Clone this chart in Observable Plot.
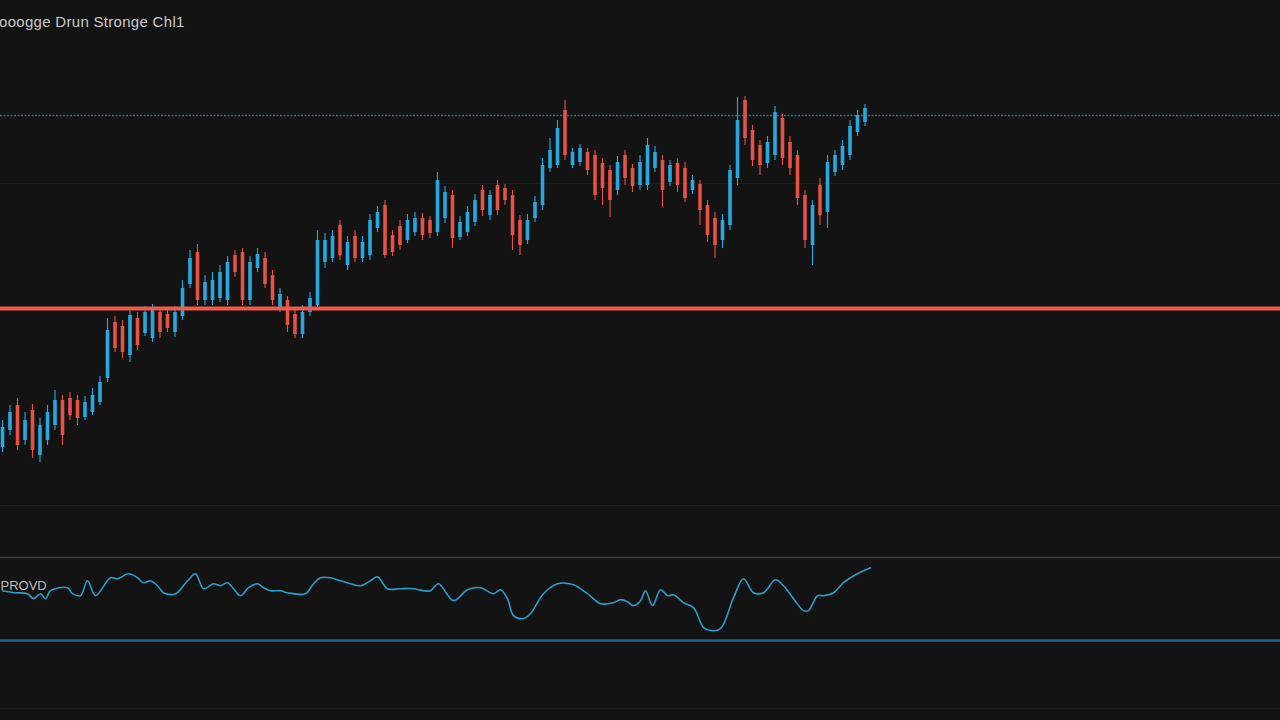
<!DOCTYPE html>
<html><head><meta charset="utf-8">
<script src="https://cdn.jsdelivr.net/npm/d3@7"></script>
<script src="https://cdn.jsdelivr.net/npm/@observablehq/plot@0.6"></script>
<style>
html,body{margin:0;padding:0;background:#131313;width:1280px;height:720px;overflow:hidden;}
#title{height:40px;position:relative;font:15px "Liberation Sans", Arial, sans-serif;color:#c9c9c9;}
#title span{position:absolute;left:-1px;top:13px;white-space:nowrap;letter-spacing:0.3px}
svg{display:block}
</style></head><body>
<div id="title"><span>ooogge Drun Stronge Chl1</span></div>
<div id="price"></div>
<div id="osc"></div>
<script>
// candle OHLC values (price units)
const open = [153,170,195,160,190,145,160,175,200,202, 200,183,188,198,222,278,274,245,282,267, 262,288,286,268,284,316,348,300,300,302, 300,345,348,300,332,342,325,293,300,286, 266,288,295,338,342,375,335,364,342,345, 372,395,365,374,360,368,382,380,368,382, 405,363,368,378,410,385,415,412,405,380, 360,382,395,432,435,490,435,438,448,445, 437,430,410,445,432,415,415,432,440,418, 437,432,410,416,395,382,360,375,422,500, 470,455,437,445,482,458,445,405,355,415, 388,428,435,445,468,478];
const close = [173,188,155,180,150,175,188,200,165,185, 182,198,205,218,270,252,248,285,255,288, 290,268,272,288,312,342,300,318,320,328, 338,328,300,338,346,316,300,306,275,266, 288,302,360,360,364,345,358,342,358,380, 388,345,348,355,380,382,365,367,420,408, 362,378,388,400,390,405,390,400,365,355, 380,398,435,450,472,445,448,452,430,405, 412,400,438,422,414,438,455,448,410,435, 415,402,420,390,365,355,380,430,480,462, 440,435,458,488,442,432,402,360,395,385, 438,445,454,474,485,492];
const high = [180,195,202,188,196,182,195,210,205,208, 205,204,212,224,282,284,280,292,288,294, 296,292,290,294,320,350,356,325,328,335, 344,350,352,344,352,348,330,312,304,292, 295,308,370,367,370,380,364,370,364,386, 394,400,370,380,386,388,387,384,428,414, 410,384,394,406,415,410,420,416,410,385, 386,404,442,462,480,500,452,456,452,450, 442,435,444,450,436,445,462,454,445,440, 442,438,425,420,400,388,386,435,503,504, 475,460,464,494,486,464,450,410,400,422, 445,450,460,480,490,496];
const low = [148,165,150,155,142,138,155,170,155,180, 175,180,185,195,218,248,242,238,250,264, 258,262,268,263,280,312,295,295,295,298, 295,323,295,295,328,312,295,288,268,262, 262,284,290,332,338,340,330,338,338,340, 368,342,344,350,357,364,360,362,364,377, 352,360,364,374,384,380,385,395,350,345, 356,378,390,428,432,440,432,434,425,400, 395,383,405,415,408,410,410,428,393,414, 408,398,406,375,358,342,352,370,415,455, 434,425,432,440,435,425,395,352,335,375, 372,424,430,440,464,474];

// reference levels (price units)
const resistance = [485];
const support = [292];
const faintLevels = [417];
const gridLevels = [95];

// oscillator (time in bar units, value 0-100)
const oscT = [0,1.73,3.33,4.13,5.07,5.73,6.4,8.67,9.33,10.4,11.33,12.4,14.4,15.33,16.8,18,18.8,19.73,20.67,21.47,23.07,24.67,25.73,26.8,28.13,29.07,30,30.8,31.73,32.8,34,34.8,35.73,37.07,38,40.4,41.47,42.4,43.73,45.07,46.4,47.73,49.07,50,51.33,53.07,54.8,56.13,57.07,58.13,60.13,62,63.73,65.47,66.4,67.33,68.13,69.47,70.4,72.13,74,76.13,78,79.73,81.47,82.4,83.33,84.13,85.07,85.73,86.67,87.73,88.67,89.47,90.8,92.13,93.47,94.4,95.73,97.47,98.8,100.13,101.47,103.07,104.13,105.47,106.8,107.47,108.67,109.47,110.8,112.13,114,115.73];
const oscV = [60,57.6,56.4,50.4,56.4,50.4,60,63.6,56.4,54,72,54,75.6,74.4,80.4,75.6,69.6,72,66,57.6,56.4,72,80.4,62.4,68.4,66,69.6,62.4,54,63.6,68.4,63.6,60,60,57.6,56.4,68.4,75.6,75.6,72,68.4,66,72,76.8,62.4,62.4,62.4,60,60,68.4,48,61.2,63.6,56.4,61.2,50.4,30,26.4,32.4,56.4,68.4,67.2,56.4,44.4,45.6,49.2,46.8,42,48,60,42,61.2,54,55.2,45.6,39.6,15.6,12,14.4,51.6,74.4,57.6,57.6,73.2,66,50.4,36,36,54,54,57.6,69.6,80.4,87.6];
const oscLevels = {upper: 100, lower: 0, floor: -82};
const oscLabel = "PROVD";

const UP = "#27a9df", DOWN = "#e65244";
const candles = open.map((o, i) => ({t: i, open: o, close: close[i], high: high[i], low: low[i]}));
const osc = oscT.map((t, i) => ({t, v: oscV[i]}));
const xDomain = [-0.267, 170.4];

const price = Plot.plot({
  width: 1280, height: 500,
  marginTop: 0, marginBottom: 0, marginLeft: 0, marginRight: 0,
  style: {background: "transparent"},
  x: {domain: xDomain, axis: null},
  y: {domain: [60, 560], axis: null},
  color: {type: "identity"},
  marks: [
    Plot.ruleY(faintLevels, {stroke: "#181a1d", strokeWidth: 1}),
    Plot.ruleY(gridLevels, {stroke: "#202226", strokeWidth: 1.2}),
    Plot.ruleY(resistance, {stroke: "#2a6f95", strokeWidth: 1.6, strokeDasharray: "2,1.5"}),
    Plot.ruleX(candles, {x: "t", y1: "low", y2: "high", stroke: d => d.close >= d.open ? UP : DOWN, strokeWidth: 1.1}),
    Plot.ruleX(candles, {x: "t", y1: "open", y2: "close", stroke: d => d.close >= d.open ? UP : DOWN, strokeWidth: 3.6}),
    Plot.ruleY(support, {stroke: "#ee5a4c", strokeWidth: 4})
  ]
});
document.getElementById("price").appendChild(price);

const oscPlot = Plot.plot({
  width: 1280, height: 180,
  marginTop: 0, marginBottom: 0, marginLeft: 0, marginRight: 0,
  style: {background: "transparent"},
  x: {domain: xDomain, axis: null},
  y: {domain: [0, 100], range: [100, 17], axis: null},
  marks: [
    Plot.ruleY([oscLevels.floor], {stroke: "#171a1d", strokeWidth: 1.5}),
    Plot.ruleY([oscLevels.upper], {stroke: "#3a3a3a", strokeWidth: 1.5}),
    Plot.ruleY([oscLevels.lower], {stroke: "#1f6488", strokeWidth: 2.5}),
    Plot.line(osc, {x: "t", y: "v", stroke: "#2a9fc9", strokeWidth: 1.6, curve: "catmull-rom"}),
    Plot.text([oscLabel], {x: xDomain[0], y: 66, text: d => d, textAnchor: "start", fill: "#bdbdbd", fontSize: 13, fontFamily: "Liberation Sans, sans-serif"})
  ]
});
document.getElementById("osc").appendChild(oscPlot);
</script>
</body></html>
